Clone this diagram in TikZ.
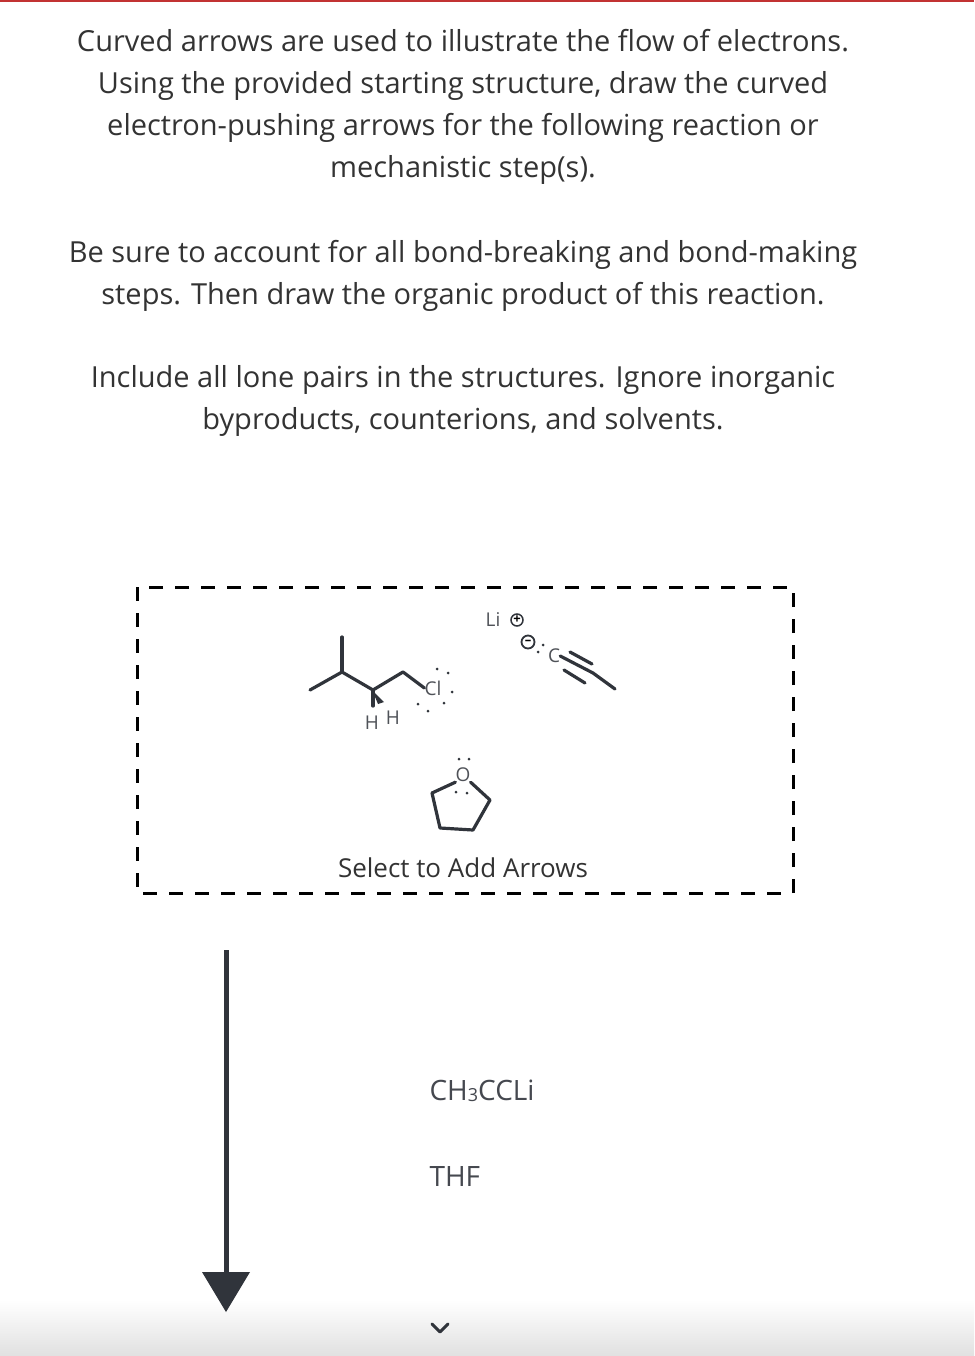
\documentclass[tikz,border=0pt]{standalone}
\usepackage{fontspec}
\setmainfont{Open Sans}
\begin{document}
\begin{tikzpicture}[x=1pt,y=-1pt,
  para/.style={font=\fontsize{29}{42}\selectfont,color=txt,align=center},
  bond/.style={line width=3.2pt,color=ink,line cap=round,line join=round},
  atom/.style={font=\fontsize{19}{20}\selectfont,color=ink!85,inner sep=0pt},
  dot/.style={circle,fill=ink,inner sep=0pt,minimum size=3pt},
  lbl/.style={font=\fontsize{28}{30}\selectfont,color=ink!90}]
\definecolor{txt}{HTML}{333333}
\definecolor{ink}{HTML}{30343B}
\useasboundingbox (0,0) rectangle (974,1356);
\fill[white] (0,0) rectangle (974,1356);
\fill[red!70!black!80] (0,0) rectangle (974,2);
\shade[top color=white,bottom color=black!12] (0,1300) rectangle (974,1356);
\node[para] (p1) at (463,107) {Curved arrows are used to illustrate the flow of electrons.\\Using the provided starting structure, draw the curved\\electron-pushing arrows for the following reaction or\\mechanistic step(s).};
\node[para] (p2) at (463,276) {Be sure to account for all bond-breaking and bond-making\\steps. Then draw the organic product of this reaction.};
\node[para] (p3) at (463,401) {Include all lone pairs in the structures. Ignore inorganic\\byproducts, counterions, and solvents.};
\draw[line width=3pt,dash pattern=on 14pt off 12pt,color=black] (137,587) rectangle (793,893);
% isobutyl chloride
\coordinate (c1) at (310,690); \coordinate (c2) at (342,672); \coordinate (c3) at (342,637);
\coordinate (c4) at (373,690); \coordinate (c5) at (403,672);
\node[atom] (cl) at (433,688) {Cl};
\node[atom] (h1) at (372,723) {H};
\node[atom] (h2) at (393,718) {H};
\draw[bond] (c1)--(c2)--(c4)--(c5)--(cl.west);
\draw[bond] (c2)--(c3);
\draw[bond] (c4)--(373,706);
\fill[ink] (372,690)--(378,704)--(384,702)--cycle;
\foreach \p in {(437,669),(448,673),(452,692),(444,703),(428,711),(418,704)} \node[dot] at \p {};
% acetylide
\node[atom] (li) at (493,620) {Li};
\node[draw=ink,circle,line width=1.5pt,inner sep=0pt,minimum size=12pt,font=\bfseries\fontsize{13}{13}\selectfont] (plus) at (517,620) {+};
\node[draw=ink,circle,line width=1.8pt,inner sep=0pt,minimum size=13pt,font=\bfseries\fontsize{13}{13}\selectfont] (minus) at (528,642) {--};
\node[dot] at (543,645) {}; \node[dot] at (538,652) {};
\node[atom] (cc) at (554,656) {C};
\coordinate (t2) at (593,673); \coordinate (me) at (615,689);
\draw[bond] (cc.east)--(t2)--(me);
\draw[bond] (570,652)--(592,664);
\draw[bond] (564,670)--(585,683);
% THF
\node[atom] (o) at (463,775) {O};
\draw[bond] (o.south west)--(432,793)--(440,828)--(473,830)--(490,800)--(o.south east);
\foreach \p in {(459,759),(469,759),(456,792),(467,793)} \node[dot] at \p {};
\node[font=\fontsize{26}{28}\selectfont,color=txt] (sel) at (463,868) {Select to Add Arrows};
% reaction arrow
\coordinate (a1) at (226,950); \coordinate (a2) at (226,1272);
\draw[line width=5pt,color=ink] (a1)--(a2);
\fill[ink] (202,1272)--(250,1272)--(226,1312)--cycle;
\node[lbl,anchor=west] (r1) at (426,1091) {CH\raisebox{-0.1ex}{\fontsize{18}{20}\selectfont 3}CCLi};
\node[lbl,anchor=west] (r2) at (426,1176) {THF};
\draw[line width=3pt,color=ink,line cap=round,line join=round] (432,1324)--(440,1332)--(448,1324);
\end{tikzpicture}
\end{document}
